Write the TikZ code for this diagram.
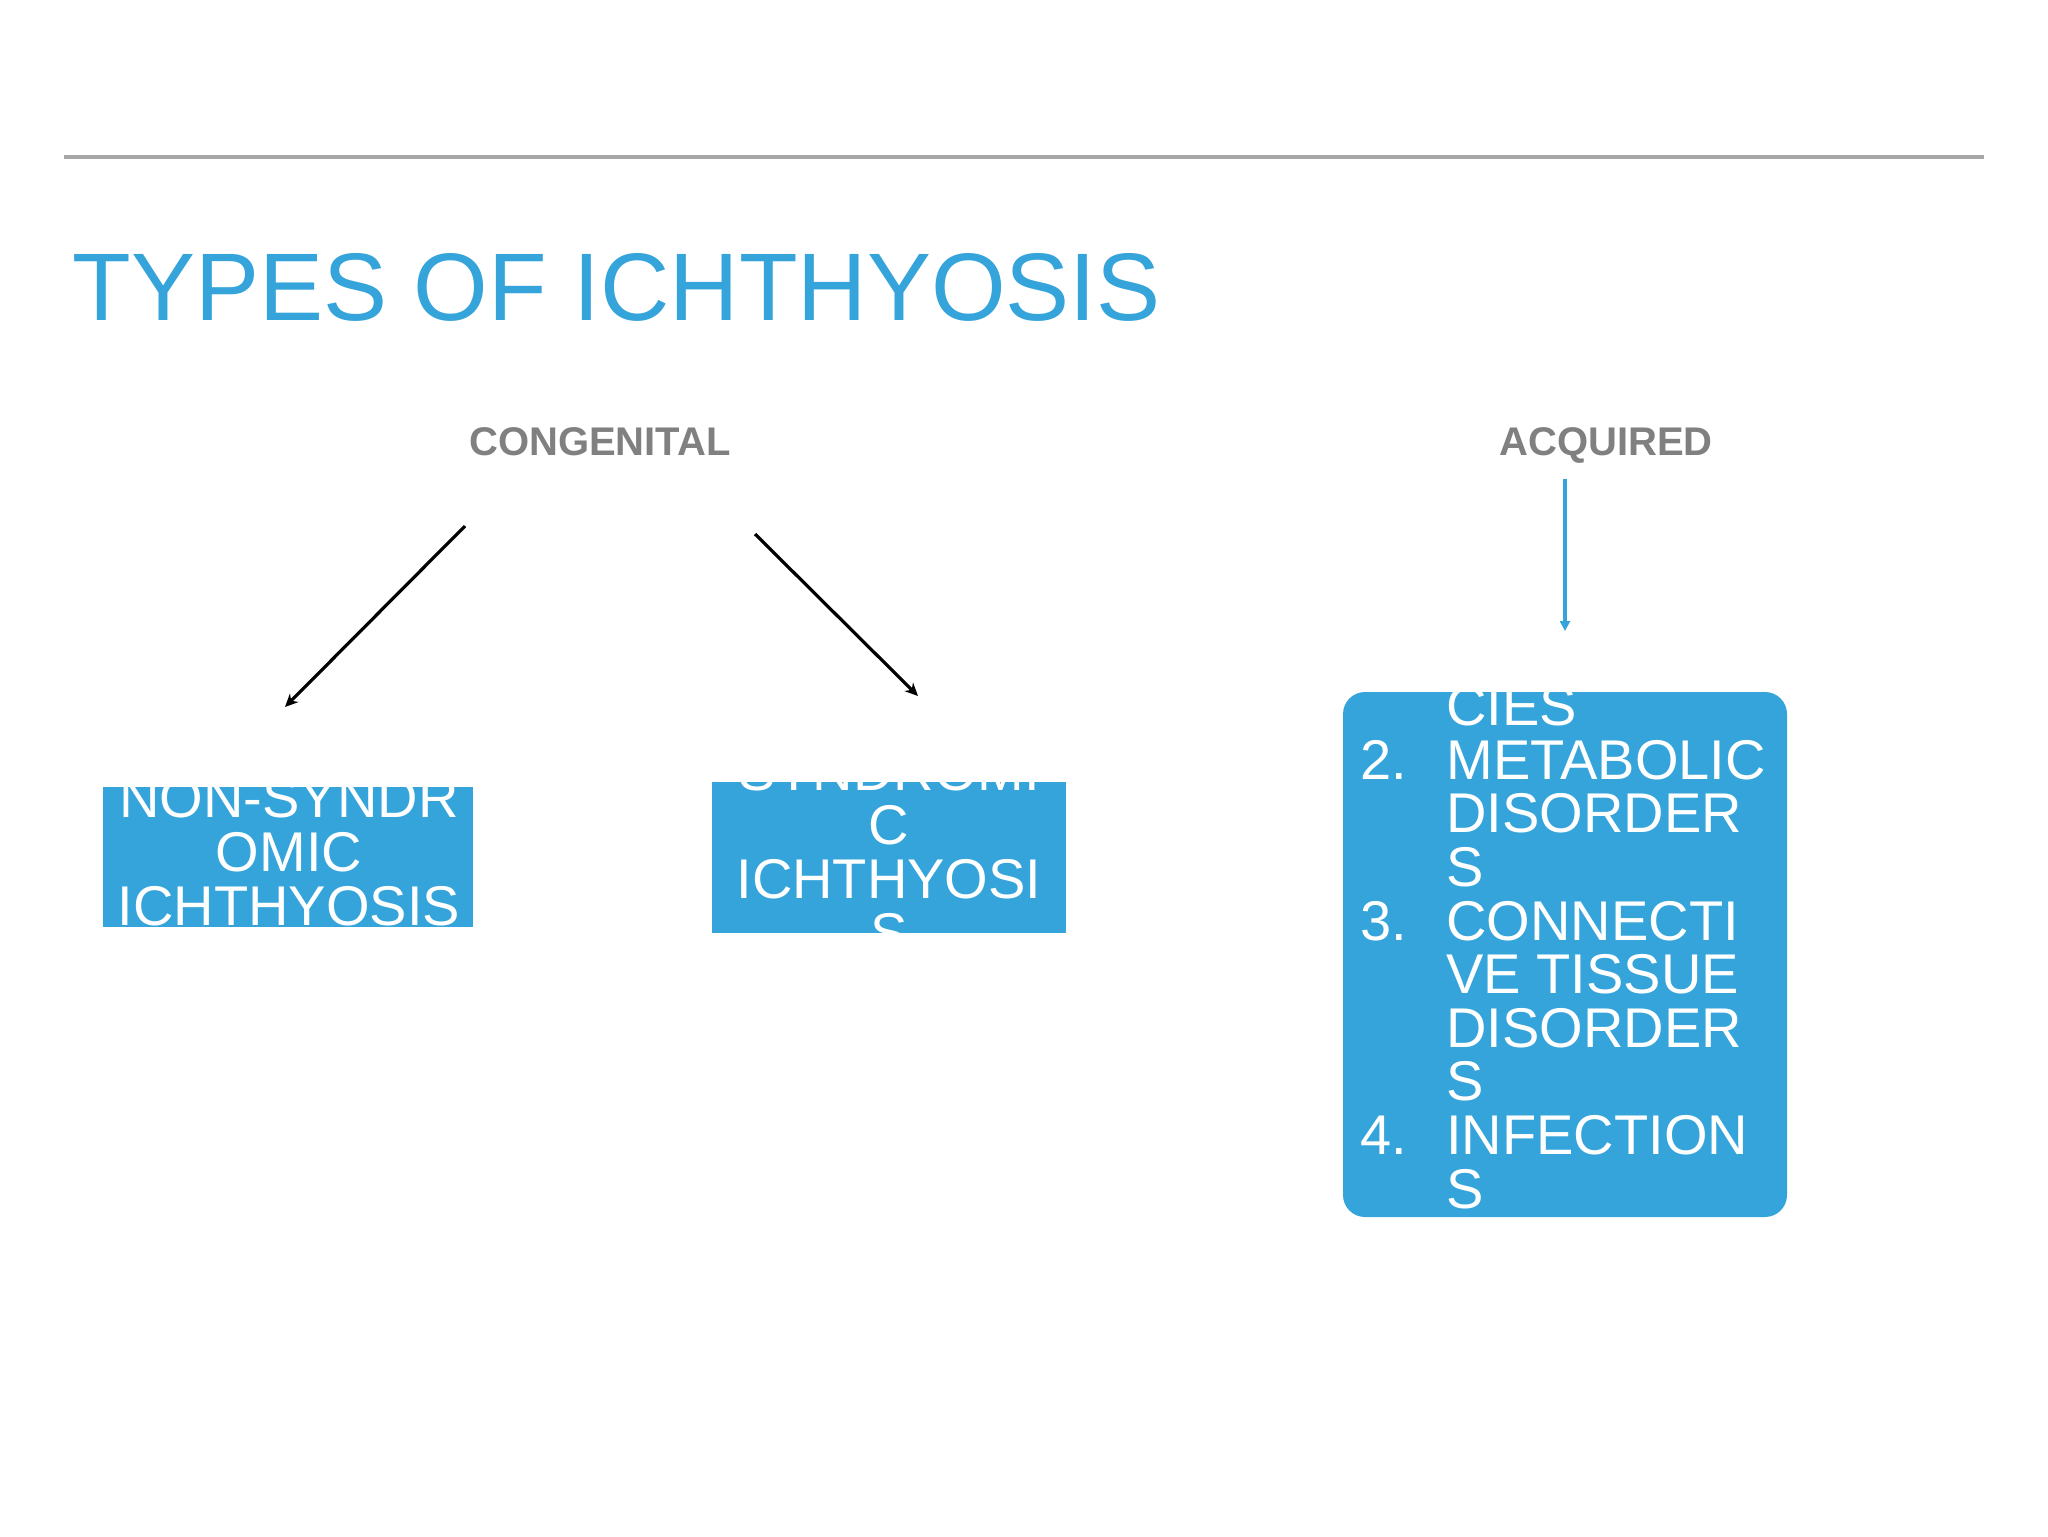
\documentclass[tikz,border=0pt]{standalone}
\usepackage{fontspec}
\setmainfont{Liberation Sans}
\usetikzlibrary{arrows.meta, positioning}
\definecolor{slideblue}{HTML}{34A4DA}
\definecolor{headgrey}{HTML}{808080}
\definecolor{rulegrey}{HTML}{A6A6A6}
\newcommand{\nr}[1]{\makebox[43pt][l]{#1}}
\newcommand{\ind}{\hspace*{43pt}}

\begin{document}
\begin{tikzpicture}[x=0.5pt, y=-0.5pt,
  b/.style={rectangle, fill=slideblue, inner sep=0pt},
  bt/.style={text=white, inner sep=0pt, font=\fontsize{28}{27}\selectfont},
  h/.style={text=headgrey, inner sep=0pt, font=\bfseries\fontsize{20}{20}\selectfont},
  a/.style={-{Stealth[length=6.5pt, width=6pt]}, line width=1.6pt, black},
  ab/.style={-{Triangle[length=5pt, width=5pt]}, line width=2pt, slideblue}]
\fill[white] (0,0) rectangle (2048,1536);
\useasboundingbox (0,0) rectangle (2048,1536);
\draw[rulegrey, line width=2.3pt] (64,157) -- (1984,157);
\node[text=slideblue, anchor=base west, inner sep=0pt, font=\fontsize{48}{48}\selectfont] (title) at (72,320) {TYPES OF ICHTHYOSIS};
\node[h, anchor=base] (cong) at (600,455) {CONGENITAL};
\node[h, anchor=base] (acq) at (1606,455) {ACQUIRED};
\node[b, minimum width=185pt, minimum height=70pt] (nsyn) at (288,857) {};
\node[b, minimum width=177pt, minimum height=75.5pt] (syn) at (889,857.5) {};
\node[b, rounded corners=11pt, minimum width=222pt, minimum height=262.5pt] (acqb) at (1565,954.5) {};
\begin{scope}
\clip (nsyn.south west) rectangle (nsyn.north east);
\node[bt, align=center, anchor=base] (nsynt) at (289,925) {NON-SYNDR\\OMIC\\ICHTHYOSIS};
\end{scope}
\begin{scope}
\clip (syn.south west) rectangle (syn.north east);
\node[bt, align=center, anchor=base] (synt) at (889,952) {SYNDROMI\\C\\ICHTHYOSI\\S};
\end{scope}
\begin{scope}
\clip[rounded corners=11pt] (acqb.south west) rectangle (acqb.north east);
\node[bt, font=\fontsize{28}{26.8}\selectfont, align=left, anchor=base west] (acqt) at (1360,1208) {\ind CIES\\\nr{2.}METABOLIC\\\ind DISORDER\\\ind S\\\nr{3.}CONNECTI\\\ind VE TISSUE\\\ind DISORDER\\\ind S\\\nr{4.}INFECTION\\\ind S};
\end{scope}
\coordinate (l0) at (465,526); \coordinate (l1) at (285,707);
\coordinate (r0) at (755,534); \coordinate (r1) at (918,696);
\coordinate (q0) at (1565,479); \coordinate (q1) at (1565,631);
\draw[a] (l0) -- (l1); \draw[a] (r0) -- (r1); \draw[ab] (q0) -- (q1);
\end{tikzpicture}
\end{document}
